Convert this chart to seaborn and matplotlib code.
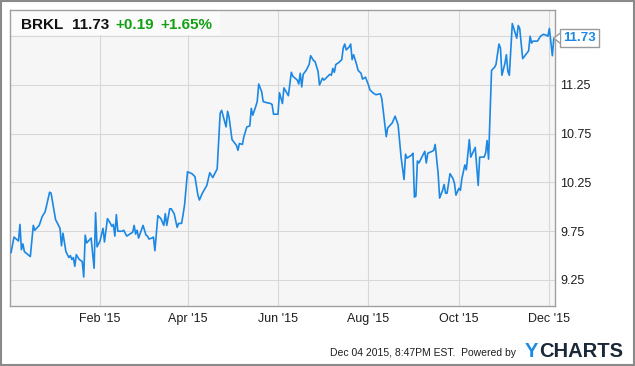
import matplotlib
matplotlib.use("Agg")
import matplotlib.pyplot as plt
import matplotlib.dates as mdates
import matplotlib.transforms as mtransforms
from matplotlib.patches import Rectangle, Polygon
import pandas as pd
import seaborn as sns

# ---------------- data ----------------
ticker = "BRKL"
last_price = 11.73
change_abs = "+0.19"
change_pct = "+1.65%"
footer_text = "Dec 04 2015, 8:47PM EST.  Powered by"

dates = [
    "2014-12-03", "2014-12-05", "2014-12-08", "2014-12-09", "2014-12-10", "2014-12-11",
    "2014-12-12", "2014-12-16", "2014-12-18", "2014-12-19", "2014-12-22", "2014-12-24",
    "2014-12-26", "2014-12-29", "2014-12-30", "2015-01-02", "2015-01-05", "2015-01-06",
    "2015-01-07", "2015-01-09", "2015-01-11", "2015-01-12", "2015-01-13", "2015-01-14",
    "2015-01-15", "2015-01-16", "2015-01-18", "2015-01-20", "2015-01-21", "2015-01-22",
    "2015-01-23", "2015-01-26", "2015-01-28", "2015-01-29", "2015-01-30", "2015-02-01",
    "2015-02-03", "2015-02-04", "2015-02-06", "2015-02-08", "2015-02-09", "2015-02-10",
    "2015-02-11", "2015-02-12", "2015-02-13", "2015-02-16", "2015-02-17", "2015-02-19",
    "2015-02-21", "2015-02-23", "2015-02-24", "2015-02-25", "2015-02-26", "2015-02-27",
    "2015-03-02", "2015-03-04", "2015-03-05", "2015-03-06", "2015-03-08", "2015-03-09",
    "2015-03-10", "2015-03-12", "2015-03-14", "2015-03-16", "2015-03-17", "2015-03-18",
    "2015-03-20", "2015-03-21", "2015-03-23", "2015-03-25", "2015-03-26", "2015-03-28",
    "2015-03-29", "2015-03-30", "2015-04-01", "2015-04-04", "2015-04-06", "2015-04-08",
    "2015-04-09", "2015-04-11", "2015-04-14", "2015-04-16", "2015-04-18", "2015-04-20",
    "2015-04-21", "2015-04-23", "2015-04-24", "2015-04-27", "2015-04-28", "2015-04-29",
    "2015-05-01", "2015-05-04", "2015-05-05", "2015-05-06", "2015-05-08", "2015-05-09",
    "2015-05-11", "2015-05-13", "2015-05-14", "2015-05-15", "2015-05-17", "2015-05-18",
    "2015-05-19", "2015-05-21", "2015-05-22", "2015-05-24", "2015-05-27", "2015-05-28",
    "2015-05-29", "2015-06-01", "2015-06-02", "2015-06-04", "2015-06-05", "2015-06-08",
    "2015-06-10", "2015-06-11", "2015-06-14", "2015-06-15", "2015-06-16", "2015-06-17",
    "2015-06-18", "2015-06-20", "2015-06-22", "2015-06-23", "2015-06-25", "2015-06-26",
    "2015-06-28", "2015-06-29", "2015-07-01", "2015-07-02", "2015-07-04", "2015-07-06",
    "2015-07-07", "2015-07-08", "2015-07-09", "2015-07-10", "2015-07-12", "2015-07-14",
    "2015-07-15", "2015-07-16", "2015-07-17", "2015-07-19", "2015-07-20", "2015-07-21",
    "2015-07-22", "2015-07-24", "2015-07-25", "2015-07-27", "2015-07-28", "2015-07-30",
    "2015-08-01", "2015-08-02", "2015-08-04", "2015-08-06", "2015-08-09", "2015-08-10",
    "2015-08-13", "2015-08-14", "2015-08-17", "2015-08-19", "2015-08-21", "2015-08-23",
    "2015-08-25", "2015-08-26", "2015-08-27", "2015-08-30", "2015-08-31", "2015-09-01",
    "2015-09-02", "2015-09-03", "2015-09-04", "2015-09-06", "2015-09-08", "2015-09-09",
    "2015-09-10", "2015-09-13", "2015-09-14", "2015-09-15", "2015-09-17", "2015-09-18",
    "2015-09-20", "2015-09-21", "2015-09-22", "2015-09-23", "2015-09-25", "2015-09-27",
    "2015-09-28", "2015-09-29", "2015-10-01", "2015-10-02", "2015-10-03", "2015-10-05",
    "2015-10-06", "2015-10-08", "2015-10-09", "2015-10-12", "2015-10-14", "2015-10-15",
    "2015-10-18", "2015-10-19", "2015-10-20", "2015-10-21", "2015-10-23", "2015-10-25",
    "2015-10-26", "2015-10-28", "2015-10-29", "2015-10-30", "2015-11-01", "2015-11-02",
    "2015-11-03", "2015-11-04", "2015-11-06", "2015-11-08", "2015-11-09", "2015-11-10",
    "2015-11-11", "2015-11-13", "2015-11-15", "2015-11-17", "2015-11-18", "2015-11-19",
    "2015-11-20", "2015-11-23", "2015-11-25", "2015-11-27", "2015-11-29", "2015-11-30",
    "2015-12-01", "2015-12-03", "2015-12-04",
]

prices = [
    9.53, 9.69, 9.65, 9.82, 9.56, 9.62,
    9.54, 9.49, 9.81, 9.76, 9.81, 9.90,
    9.95, 10.15, 10.14, 9.87, 9.78, 9.60,
    9.73, 9.54, 9.48, 9.50, 9.46, 9.48,
    9.39, 9.51, 9.46, 9.44, 9.28, 9.71,
    9.63, 9.68, 9.37, 9.94, 9.59, 9.65,
    9.78, 9.64, 9.88, 9.83, 9.80, 9.82,
    9.70, 9.92, 9.75, 9.75, 9.76, 9.70,
    9.72, 9.74, 9.81, 9.72, 9.76, 9.68,
    9.81, 9.71, 9.70, 9.67, 9.68, 9.69,
    9.55, 9.91, 9.88, 9.81, 9.93, 9.81,
    9.98, 9.98, 9.93, 9.79, 9.83, 9.83,
    9.92, 10.02, 10.36, 10.34, 10.31, 10.12,
    10.07, 10.14, 10.22, 10.35, 10.30, 10.36,
    10.39, 10.96, 10.99, 10.82, 10.98, 10.92,
    10.69, 10.63, 10.58, 10.65, 10.64, 10.72,
    10.82, 10.83, 11.01, 10.94, 11.03, 11.08,
    11.26, 11.18, 11.08, 11.07, 11.06, 11.05,
    10.95, 10.95, 11.17, 11.06, 11.22, 11.14,
    11.38, 11.34, 11.30, 11.26, 11.37, 11.23,
    11.36, 11.40, 11.46, 11.55, 11.50, 11.49,
    11.39, 11.25, 11.32, 11.30, 11.33, 11.36,
    11.35, 11.42, 11.38, 11.46, 11.48, 11.51,
    11.63, 11.67, 11.61, 11.64, 11.67, 11.51,
    11.56, 11.46, 11.40, 11.37, 11.31, 11.33,
    11.25, 11.20, 11.17, 11.15, 11.16, 11.11,
    10.72, 10.81, 10.86, 10.93, 10.84, 10.51,
    10.28, 10.54, 10.50, 10.53, 10.55, 10.10,
    10.11, 10.47, 10.45, 10.51, 10.57, 10.45,
    10.55, 10.57, 10.58, 10.64, 10.34, 10.09,
    10.17, 10.23, 10.14, 10.14, 10.34, 10.29,
    10.24, 10.12, 10.19, 10.17, 10.29, 10.43,
    10.38, 10.69, 10.51, 10.61, 10.22, 10.51,
    10.51, 10.55, 10.68, 10.49, 11.40, 11.43,
    11.46, 11.67, 11.63, 11.35, 11.47, 11.56,
    11.39, 11.35, 11.88, 11.78, 11.73, 11.86,
    11.83, 11.52, 11.56, 11.60, 11.75, 11.68,
    11.70, 11.70, 11.75, 11.77, 11.76, 11.75,
    11.83, 11.55, 11.73,
]

y_ticks = [9.25, 9.75, 10.25, 10.75, 11.25, 11.75]
y_tick_labels = ["9.25", "9.75", "10.25", "10.75", "11.25", ""]

# ---------------- style ----------------
LINE = "#1c88e4"
GREEN = "#14a014"
GRID = "#d8d8d8"
FRAME = "#a0a0a0"
TEXT = "#1e1e1e"

sns.set_style("white")
plt.rcParams["font.family"] = ["Liberation Sans", "DejaVu Sans"]

W, H = 635, 366
fig = plt.figure(figsize=(W / 100, H / 100), dpi=100)


def fx(px):
    return px / W


def fy(py):
    return 1 - py / H


ax = fig.add_axes([fx(10), fy(306), fx(555) - fx(10), fy(10) - fy(306)])
ax.set_facecolor("#f6f6f6")

df = pd.DataFrame({"date": pd.to_datetime(dates), "price": prices})
sns.lineplot(data=df, x="date", y="price", ax=ax, color=LINE, linewidth=1.2, zorder=3)

ax.set_xlim(pd.Timestamp("2014-12-02 07:00"), pd.Timestamp("2015-12-04 19:00"))
ax.set_ylim(8.983, 12.019)

ax.set_yticks(y_ticks)
ax.set_yticklabels(y_tick_labels)
ax.yaxis.tick_right()
ax.set_xticks(pd.date_range("2015-02-01", "2015-12-01", freq="2MS"))
ax.xaxis.set_major_formatter(mdates.DateFormatter("%b '%y"))
ax.tick_params(axis="both", length=0, labelsize=9, colors=TEXT)
ax.tick_params(axis="y", pad=4)
ax.tick_params(axis="x", pad=5)
ax.set_xlabel("")
ax.set_ylabel("")
ax.grid(True, color=GRID, linewidth=0.8)
for s in ax.spines.values():
    s.set_visible(True)
    s.set_color(FRAME)
    s.set_linewidth(1.0)

# title box
ax.add_patch(Rectangle((0, 1 - 25 / 296), 210 / 545, 25 / 296, transform=ax.transAxes,
                       facecolor="#fbfbfb", edgecolor="none", zorder=2))
fig.text(fx(21), fy(29), ticker, fontsize=11, fontweight="bold", color="#111", va="baseline")
fig.text(fx(72), fy(29), f"{last_price:.2f}", fontsize=11, fontweight="bold", color="#111", va="baseline")
fig.text(fx(115), fy(29), change_abs, fontsize=11, fontweight="bold", color=GREEN, va="baseline")
fig.text(fx(160), fy(29), change_pct, fontsize=11, fontweight="bold", color=GREEN, va="baseline")

# current price label
blend = mtransforms.blended_transform_factory(ax.transAxes, ax.transData)
ax.annotate(f"{prices[-1]:.2f}", xy=(1, prices[-1]), xycoords=blend,
            xytext=(8, 0), textcoords="offset pixels", ha="left", va="center",
            fontsize=9.5, fontweight="bold", color=LINE, annotation_clip=False,
            bbox=dict(boxstyle="square,pad=0.25", fc="white", ec="#9a9a9a", lw=1), zorder=5)
xd, yd = blend.transform((1, prices[-1]))
inv = fig.transFigure.inverted()
pts = [inv.transform((xd + dx, yd + dy)) for dx, dy in [(5, -5), (-1, 0), (5, 5)]]
fig.patches.append(Polygon(pts, closed=False, facecolor="white", edgecolor="#9a9a9a",
                           lw=1, transform=fig.transFigure, zorder=6))

# footer
fig.text(fx(330), fy(356), footer_text, fontsize=7.5, color=TEXT, va="baseline")
fig.text(fx(538), fy(357), "Y", fontsize=14.5, fontweight="bold", color="#1a8be6",
         va="baseline", ha="right")
fig.text(fx(623), fy(357), "CHARTS", fontsize=14.5, fontweight="bold", color="#1b2838",
         va="baseline", ha="right")

# outer border
fig.patches.append(Rectangle((fx(0.75), fy(H - 0.75)), fx(W - 1.5), 1 - 1.5 / H,
                             transform=fig.transFigure, fill=False, edgecolor="#8a8a8a", lw=1.5))

fig.savefig("out.png", dpi=100)
